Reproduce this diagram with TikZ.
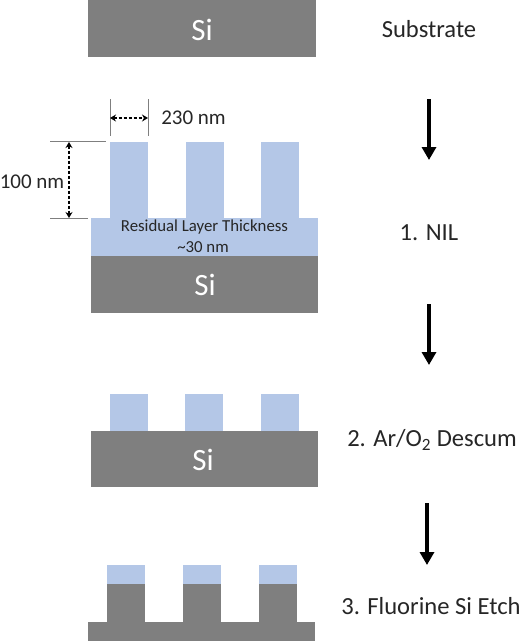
\documentclass[tikz,border=0pt]{standalone}
\usepackage{xcolor}
\usepackage{fontspec}
\setmainfont{Carlito}
\definecolor{cSi}{HTML}{7F7F7F}
\definecolor{cResist}{HTML}{B4C7E7}
\definecolor{cText}{HTML}{262626}
\definecolor{cRule}{HTML}{7F7F7F}
\usetikzlibrary{positioning,arrows.meta}
\tikzset{
  layer-si/.style={fill=cSi},
  layer-resist/.style={fill=cResist},
  label-si/.style={text=white,font=\fontsize{31}{34}\selectfont},
  label-step/.style={text=cText,font=\fontsize{24.6}{28}\selectfont},
  label-dim/.style={text=cText,inner sep=0pt,font=\fontsize{21}{25}\selectfont},
  label-rlt/.style={text=cText,font=\fontsize{16.8}{20}\selectfont},
  arrow-step/.style={-{Triangle[length=13pt,width=14pt]},line width=4pt,draw=black},
  arrow-dim/.style={{Stealth[length=6pt,width=7pt]}-{Stealth[length=6pt,width=7pt]},line width=1.2pt,dash pattern=on 3pt off 2pt,draw=black},
  dim-rule/.style={draw=cRule,line width=0.9pt},
}
\begin{document}
\begin{tikzpicture}[x=1pt,y=-1pt]
  \useasboundingbox (0,0) rectangle (520,641);
  % substrate
  \fill[layer-si] (88,0) rectangle (316,57);
  \node[label-si] (si-sub) at (202,30) {Si};
  \node[label-step] (lbl-sub) at (429,29) {Substrate};
  % NIL
  \foreach \x in {110,186,261}
    \fill[layer-resist] (\x,142) rectangle ++(38,77);
  \fill[layer-resist] (91,218) rectangle (318,256);
  \fill[layer-si] (91,256) rectangle (318,313);
  \node[label-rlt] (lbl-rlt) at (204.5,227) {Residual Layer Thickness};
  \node[label-rlt] (lbl-thick) at (203,247) {\textasciitilde 30 nm};
  \node[label-si] (si-nil) at (205,285) {Si};
  \node[label-step] (lbl-nil) at (429,233) {1. NIL};
  % dimensions
  \coordinate (w-a) at (110,118);
  \coordinate (w-b) at (148,118);
  \coordinate (h-a) at (69,142);
  \coordinate (h-b) at (69,218);
  \draw[dim-rule] (110,99) -- (110,136);
  \draw[dim-rule] (148,99) -- (148,136);
  \draw[dim-rule] (50,141) -- (106,141);
  \draw[dim-rule] (50,218) -- (88,218);
  \draw[arrow-dim] (w-a) -- (w-b);
  \draw[arrow-dim] (h-a) -- (h-b);
  \node[label-dim] (lbl-w) at (193.5,118) {230 nm};
  \node[label-dim] (lbl-h) at (32,181.5) {100 nm};
  % descum
  \foreach \x in {110,185,261}
    \fill[layer-resist] (\x,394) rectangle ++(38,38);
  \fill[layer-si] (91,431) rectangle (318,487);
  \node[label-si] (si-des) at (203,460) {Si};
  \node[label-step] (lbl-des) at (432,440) {2. Ar/O\textsubscript{2} Descum};
  % etch
  \foreach \x in {107,183,259}{
    \fill[layer-resist] (\x,565) rectangle ++(37.5,19);
    \fill[layer-si] (\x,584) rectangle ++(37.5,39);
  }
  \fill[layer-si] (88,622) rectangle (315,641);
  \node[label-step] (lbl-etch) at (431,606) {3. Fluorine Si Etch};
  % process flow
  \coordinate (a1) at (429,99);
  \coordinate (a2) at (429,160);
  \coordinate (b1) at (429,304);
  \coordinate (b2) at (429,365);
  \coordinate (c1) at (427,503);
  \coordinate (c2) at (427,565);
  \draw[arrow-step] (a1) -- (a2);
  \draw[arrow-step] (b1) -- (b2);
  \draw[arrow-step] (c1) -- (c2);
\end{tikzpicture}
\end{document}
